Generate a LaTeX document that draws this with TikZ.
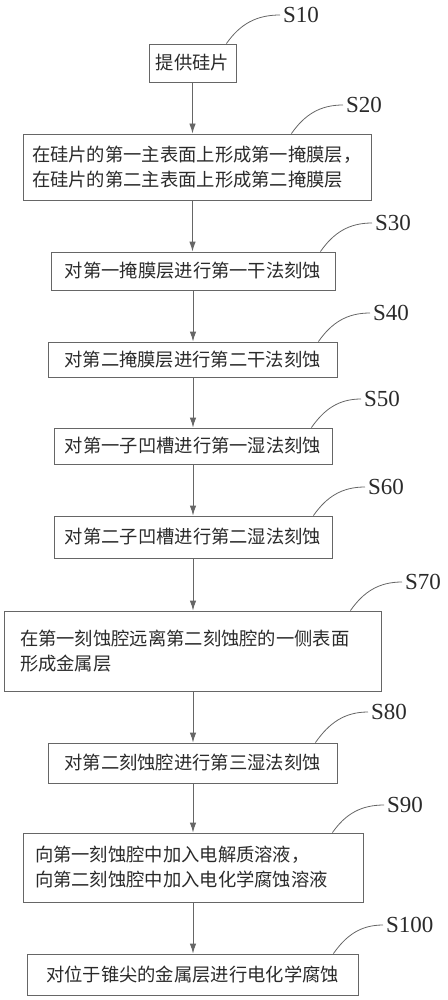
\documentclass[tikz,border=0pt]{standalone}
\usepackage{fontspec}
\setmainfont{Liberation Serif}
\newfontfamily\cjk{Noto Sans CJK SC}
\usetikzlibrary{arrows.meta}
\usetikzlibrary{calc}

\definecolor{linegray}{HTML}{666666}
\definecolor{textgray}{HTML}{2A2A2A}

\tikzset{
	stepbox/.style={draw=linegray, line width=0.9pt, text=textgray, inner sep=2pt,
		font=\cjk\fontsize{18.3}{25}\selectfont},
	twoline/.style={align=left},
	arr/.style={draw=linegray, line width=0.9pt, ->, >={Latex[length=10pt,width=6.5pt]}},
	lead/.style={draw=linegray, line width=0.8pt},
	lbl/.style={anchor=west, inner sep=3pt, text=textgray, font=\fontsize{23}{23}\selectfont}
}

\begin{document}
\begin{tikzpicture}[x=1pt,y=-1pt]
		\useasboundingbox (0,0) rectangle (447,1000);
		% steps
		\node[stepbox, minimum width=87pt, minimum height=38pt] (s10) at (192.5,63) {提供硅片};
		\node[stepbox, twoline, text width=330pt, inner xsep=9pt, minimum height=66pt] (s20) at (197,167)
			{在硅片的第一主表面上形成第一掩膜层，\\在硅片的第二主表面上形成第二掩膜层};
		\node[stepbox, minimum width=284pt, minimum height=38pt] (s30) at (193,271) {对第一掩膜层进行第一干法刻蚀};
		\node[stepbox, minimum width=289pt, minimum height=35pt] (s40) at (192.5,359.5) {对第二掩膜层进行第二干法刻蚀};
		\node[stepbox, minimum width=278pt, minimum height=36pt] (s50) at (193,446) {对第一子凹槽进行第一湿法刻蚀};
		\node[stepbox, minimum width=278pt, minimum height=42pt] (s60) at (193,537) {对第二子凹槽进行第二湿法刻蚀};
		\node[stepbox, twoline, text width=345pt, inner xsep=16pt, minimum height=80pt] (s70) at (192.5,651)
			{在第一刻蚀腔远离第二刻蚀腔的一侧表面\\形成金属层};
		\node[stepbox, minimum width=289pt, minimum height=40pt] (s80) at (192.5,763) {对第二刻蚀腔进行第三湿法刻蚀};
		\node[stepbox, twoline, text width=316pt, inner xsep=12pt, minimum height=69pt] (s90) at (193,867.5)
			{向第一刻蚀腔中加入电解质溶液，\\向第二刻蚀腔中加入电化学腐蚀溶液};
		\node[stepbox, minimum width=331pt, minimum height=41pt] (s100) at (192.5,974.5) {对位于锥尖的金属层进行电化学腐蚀};

		% flow
		\draw[arr] (s10.south) -- (s10.south |- s20.north);
		\draw[arr] (s10.south |- s20.south) -- (s10.south |- s30.north);
		\draw[arr] (s30.south) -- (s30.south |- s40.north);
		\draw[arr] (s30.south |- s40.south) -- (s30.south |- s50.north);
		\draw[arr] (s50.south) -- (s50.south |- s60.north);
		\draw[arr] (s50.south |- s60.south) -- (s50.south |- s70.north);
		\draw[arr] (s50.south |- s70.south) -- (s50.south |- s80.north);
		\draw[arr] (s50.south |- s80.south) -- (s50.south |- s90.north);
		\draw[arr] (s50.south |- s90.south) -- (s50.south |- s100.north);

		% step labels
		\node[lbl] (l10) at (280,15) {S10};
		\node[lbl] (l20) at (343,105) {S20};
		\node[lbl] (l30) at (372,223) {S30};
		\node[lbl] (l40) at (370,313) {S40};
		\node[lbl] (l50) at (361,399) {S50};
		\node[lbl] (l60) at (365,487) {S60};
		\node[lbl] (l70) at (402,582) {S70};
		\node[lbl] (l80) at (368,712) {S80};
		\node[lbl] (l90) at (384,805) {S90};
		\node[lbl] (l100) at (383,925) {S100};
		\draw[lead] ($(s10.north east)+(-10,0)$) to[out=55,in=180] (l10.west);
		\draw[lead] ($(s20.north east)+(-80,0)$) to[out=55,in=180] (l20.west);
		\draw[lead] ($(s30.north east)+(-15,0)$) to[out=55,in=180] (l30.west);
		\draw[lead] ($(s40.north east)+(-19,0)$) to[out=55,in=180] (l40.west);
		\draw[lead] ($(s50.north east)+(-21,0)$) to[out=55,in=180] (l50.west);
		\draw[lead] ($(s60.north east)+(-19,0)$) to[out=55,in=180] (l60.west);
		\draw[lead] ($(s70.north east)+(-31,0)$) to[out=55,in=180] (l70.west);
		\draw[lead] ($(s80.north east)+(-22,0)$) to[out=55,in=180] (l80.west);
		\draw[lead] ($(s90.north east)+(-31,0)$) to[out=55,in=180] (l90.west);
		\draw[lead] ($(s100.north east)+(-25,0)$) to[out=55,in=180] (l100.west);
	\end{tikzpicture}
\end{document}
